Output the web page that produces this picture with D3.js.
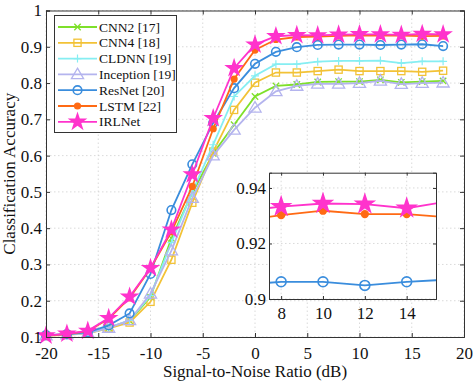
<!DOCTYPE html>
<html>
<head>
<meta charset="utf-8">
<script src="https://cdn.jsdelivr.net/npm/d3@7"></script>
<style>
  body { margin: 0; background: #fff; }
  text { font-family: "Liberation Serif", "Times New Roman", serif; fill: #111; }
</style>
</head>
<body>
<svg id="chart" width="474" height="384"></svg>
<script>
var snr = [-20, -18, -16, -14, -12, -10, -8, -6, -4, -2, 0, 2, 4, 6, 8, 10, 12, 14, 16, 18];

var cnn2      = [0.104, 0.107, 0.111, 0.125, 0.145, 0.210, 0.372, 0.497, 0.606, 0.685, 0.763, 0.792, 0.796, 0.803, 0.804, 0.804, 0.809, 0.802, 0.804, 0.806];
var cnn4      = [0.103, 0.106, 0.110, 0.124, 0.140, 0.197, 0.313, 0.470, 0.611, 0.726, 0.801, 0.829, 0.829, 0.833, 0.837, 0.833, 0.833, 0.833, 0.831, 0.834];
var cldnn     = [0.104, 0.107, 0.111, 0.126, 0.146, 0.214, 0.360, 0.500, 0.630, 0.763, 0.820, 0.852, 0.852, 0.859, 0.861, 0.861, 0.862, 0.855, 0.860, 0.860];
var inception = [0.104, 0.107, 0.111, 0.125, 0.146, 0.219, 0.338, 0.483, 0.600, 0.671, 0.732, 0.777, 0.792, 0.798, 0.798, 0.800, 0.806, 0.797, 0.800, 0.801];
var resnet    = [0.105, 0.108, 0.113, 0.132, 0.165, 0.274, 0.450, 0.576, 0.690, 0.786, 0.853, 0.886, 0.899, 0.905, 0.9062, 0.9062, 0.9049, 0.9062, 0.907, 0.902];
var lstm      = [0.104, 0.108, 0.116, 0.150, 0.208, 0.289, 0.390, 0.515, 0.674, 0.811, 0.891, 0.920, 0.927, 0.928, 0.9302, 0.9318, 0.9306, 0.9306, 0.9294, 0.930];
var irlnet    = [0.104, 0.109, 0.117, 0.152, 0.211, 0.290, 0.396, 0.548, 0.703, 0.841, 0.906, 0.929, 0.932, 0.9315, 0.9333, 0.9344, 0.9342, 0.9327, 0.9352, 0.934];

var xTicks = [-20, -15, -10, -5, 0, 5, 10, 15, 20];
var yTicks = [0.1, 0.2, 0.3, 0.4, 0.5, 0.6, 0.7, 0.8, 0.9, 1];
var insetXTicks = [8, 10, 12, 14];
var insetYTicks = [0.9, 0.92, 0.94];

var series = [
  { name: "CNN2 [17]",      values: cnn2,      color: "#7ee02a", marker: "x" },
  { name: "CNN4 [18]",      values: cnn4,      color: "#f2c236", marker: "square" },
  { name: "CLDNN [19]",     values: cldnn,     color: "#86eef2", marker: "plus" },
  { name: "Inception [19]", values: inception, color: "#b4b4ee", marker: "triangle" },
  { name: "ResNet [20]",    values: resnet,    color: "#3a8ddd", marker: "circle" },
  { name: "LSTM [22]",      values: lstm,      color: "#ff6a14", marker: "dot" },
  { name: "IRLNet",         values: irlnet,    color: "#ff33cc", marker: "star" }
];

var svg = d3.select("#chart");
var m = { left: 46, right: 464, top: 10.5, bottom: 337 };

var x = d3.scaleLinear().domain([-20, 20]).range([m.left, m.right]);
var y = d3.scaleLinear().domain([0.1, 1]).range([m.bottom, m.top]);

function drawMarker(g, type, cx, cy, color, s) {
  s = s || 1;
  if (type === "x") {
    var r = 3.2 * s;
    g.append("path").attr("d", "M" + (cx - r) + "," + (cy - r) + "L" + (cx + r) + "," + (cy + r) +
      "M" + (cx - r) + "," + (cy + r) + "L" + (cx + r) + "," + (cy - r))
      .attr("stroke", color).attr("stroke-width", 1.3).attr("fill", "none");
  } else if (type === "plus") {
    var r = 4 * s;
    g.append("path").attr("d", "M" + (cx - r) + "," + cy + "L" + (cx + r) + "," + cy +
      "M" + cx + "," + (cy - r) + "L" + cx + "," + (cy + r))
      .attr("stroke", color).attr("stroke-width", 1.2).attr("fill", "none");
  } else if (type === "square") {
    var r = 3.6 * s;
    g.append("rect").attr("x", cx - r).attr("y", cy - r).attr("width", 2 * r).attr("height", 2 * r)
      .attr("stroke", color).attr("stroke-width", 1.3).attr("fill", "none");
  } else if (type === "triangle") {
    g.append("path").attr("d", d3.symbol().type(d3.symbolTriangle).size(64 * s * s)())
      .attr("transform", "translate(" + cx + "," + (cy + 0.8) + ")")
      .attr("stroke", color).attr("stroke-width", 1.3).attr("fill", "none");
  } else if (type === "circle") {
    g.append("circle").attr("cx", cx).attr("cy", cy).attr("r", 4.3 * s)
      .attr("stroke", color).attr("stroke-width", 1.6).attr("fill", "none");
  } else if (type === "dot") {
    g.append("circle").attr("cx", cx).attr("cy", cy).attr("r", 3.6 * s)
      .attr("fill", color);
  } else if (type === "star") {
    g.append("path").attr("d", d3.symbol().type(d3.symbolStar).size(120 * s * s)())
      .attr("transform", "translate(" + cx + "," + cy + ")")
      .attr("fill", color);
  }
}

// grid
var grid = svg.append("g");
grid.selectAll("line.gx").data(xTicks).enter().append("line")
  .attr("x1", function (d) { return x(d); }).attr("x2", function (d) { return x(d); })
  .attr("y1", m.top).attr("y2", m.bottom)
  .attr("stroke", "#d0d0d0").attr("stroke-width", 0.8).attr("stroke-dasharray", "1.5,2.5");
grid.selectAll("line.gy").data(yTicks).enter().append("line")
  .attr("y1", function (d) { return y(d); }).attr("y2", function (d) { return y(d); })
  .attr("x1", m.left).attr("x2", m.right)
  .attr("stroke", "#d0d0d0").attr("stroke-width", 0.8).attr("stroke-dasharray", "1.5,2.5");

// series
var line = d3.line()
  .x(function (d, i) { return x(snr[i]); })
  .y(function (d) { return y(d); });

var plot = svg.append("g");
series.forEach(function (s) {
  var g = plot.append("g");
  g.append("path").datum(s.values).attr("d", line)
    .attr("fill", "none").attr("stroke", s.color).attr("stroke-width", 1.8);
  s.values.forEach(function (v, i) {
    drawMarker(g, s.marker, x(snr[i]), y(v), s.color);
  });
});

// axes (MATLAB-like box with inward ticks)
var fmt = function (d) { return d === 1 ? "1" : d3.format("")(d); };
var axB = svg.append("g").attr("transform", "translate(0," + m.bottom + ")")
  .call(d3.axisBottom(x).tickValues(xTicks).tickSize(-4).tickPadding(10).tickFormat(function (d) { return d; }));
var axL = svg.append("g").attr("transform", "translate(" + m.left + ",0)")
  .call(d3.axisLeft(y).tickValues(yTicks).tickSize(-4).tickPadding(4).tickFormat(fmt));
var axT = svg.append("g").attr("transform", "translate(0," + m.top + ")")
  .call(d3.axisTop(x).tickValues(xTicks).tickSize(-4).tickFormat(""));
var axR = svg.append("g").attr("transform", "translate(" + m.right + ",0)")
  .call(d3.axisRight(y).tickValues(yTicks).tickSize(-4).tickFormat(""));
[axB, axL, axT, axR].forEach(function (a) {
  a.attr("font-family", null);
  a.select(".domain").attr("stroke", "#333").attr("stroke-width", 1);
  a.selectAll(".tick line").attr("stroke", "#333");
  a.selectAll("text").style("font-size", "17px").style("font-family", "Liberation Serif").attr("fill", "#111");
});

svg.append("text").attr("x", (m.left + m.right) / 2).attr("y", 377)
  .attr("text-anchor", "middle").style("font-size", "17px").text("Signal-to-Noise Ratio (dB)");
svg.append("text").attr("transform", "translate(15," + ((m.top + m.bottom) / 2) + ") rotate(-90)")
  .attr("text-anchor", "middle").style("font-size", "17px").text("Classification Accuracy");

// legend
var leg = svg.append("g");
leg.append("rect").attr("x", 54.5).attr("y", 15.5).attr("width", 122).attr("height", 117)
  .attr("fill", "#fff").attr("stroke", "#333").attr("stroke-width", 1);
series.forEach(function (s, i) {
  var ly = 27 + i * 15.8;
  leg.append("line").attr("x1", 58).attr("x2", 97).attr("y1", ly).attr("y2", ly)
    .attr("stroke", s.color).attr("stroke-width", 1.8);
  drawMarker(leg, s.marker, 77.5, ly, s.color);
  leg.append("text").attr("x", 99).attr("y", ly + 4.5).style("font-size", "13.5px").text(s.name);
});

// inset
var ix = d3.scaleLinear().domain([7.42, 15.4]).range([269, 436]);
var iy = d3.scaleLinear().domain([0.9, 0.9455]).range([299, 172.7]);
var inset = svg.append("g");
inset.append("rect").attr("x", 269).attr("y", 172.7).attr("width", 167).attr("height", 126.3)
  .attr("fill", "#fff");
inset.selectAll("line.igx").data(insetXTicks).enter().append("line")
  .attr("x1", function (d) { return ix(d); }).attr("x2", function (d) { return ix(d); })
  .attr("y1", 172.7).attr("y2", 299)
  .attr("stroke", "#d0d0d0").attr("stroke-width", 0.8).attr("stroke-dasharray", "1.5,2.5");
inset.selectAll("line.igy").data(insetYTicks).enter().append("line")
  .attr("y1", function (d) { return iy(d); }).attr("y2", function (d) { return iy(d); })
  .attr("x1", 269).attr("x2", 436)
  .attr("stroke", "#d0d0d0").attr("stroke-width", 0.8).attr("stroke-dasharray", "1.5,2.5");

svg.append("clipPath").attr("id", "insetClip").append("rect")
  .attr("x", 269).attr("y", 172.7).attr("width", 167).attr("height", 126.3);
var iline = d3.line()
  .x(function (d, i) { return ix(snr[i]); })
  .y(function (d) { return iy(d); });
var ip = inset.append("g").attr("clip-path", "url(#insetClip)");
series.forEach(function (s) {
  var g = ip.append("g");
  g.append("path").datum(s.values).attr("d", iline)
    .attr("fill", "none").attr("stroke", s.color).attr("stroke-width", 1.8);
  s.values.forEach(function (v, i) {
    if (snr[i] >= 8 && snr[i] <= 14) drawMarker(g, s.marker, ix(snr[i]), iy(v), s.color, 1.15);
  });
});

var iaB = inset.append("g").attr("transform", "translate(0,299)")
  .call(d3.axisBottom(ix).tickValues(insetXTicks).tickSize(-3).tickPadding(8));
var iaL = inset.append("g").attr("transform", "translate(269,0)")
  .call(d3.axisLeft(iy).tickValues(insetYTicks).tickSize(-3).tickPadding(3).tickFormat(function (d) { return d; }));
var iaT = inset.append("g").attr("transform", "translate(0,172.7)")
  .call(d3.axisTop(ix).tickValues(insetXTicks).tickSize(-3).tickFormat(""));
var iaR = inset.append("g").attr("transform", "translate(436,0)")
  .call(d3.axisRight(iy).tickValues(insetYTicks).tickSize(-3).tickFormat(""));
[iaB, iaL, iaT, iaR].forEach(function (a) {
  a.attr("font-family", null);
  a.select(".domain").attr("stroke", "#333").attr("stroke-width", 1);
  a.selectAll(".tick line").attr("stroke", "#333");
  a.selectAll("text").style("font-size", "17px").style("font-family", "Liberation Serif").attr("fill", "#111");
});
</script>
</body>
</html>
